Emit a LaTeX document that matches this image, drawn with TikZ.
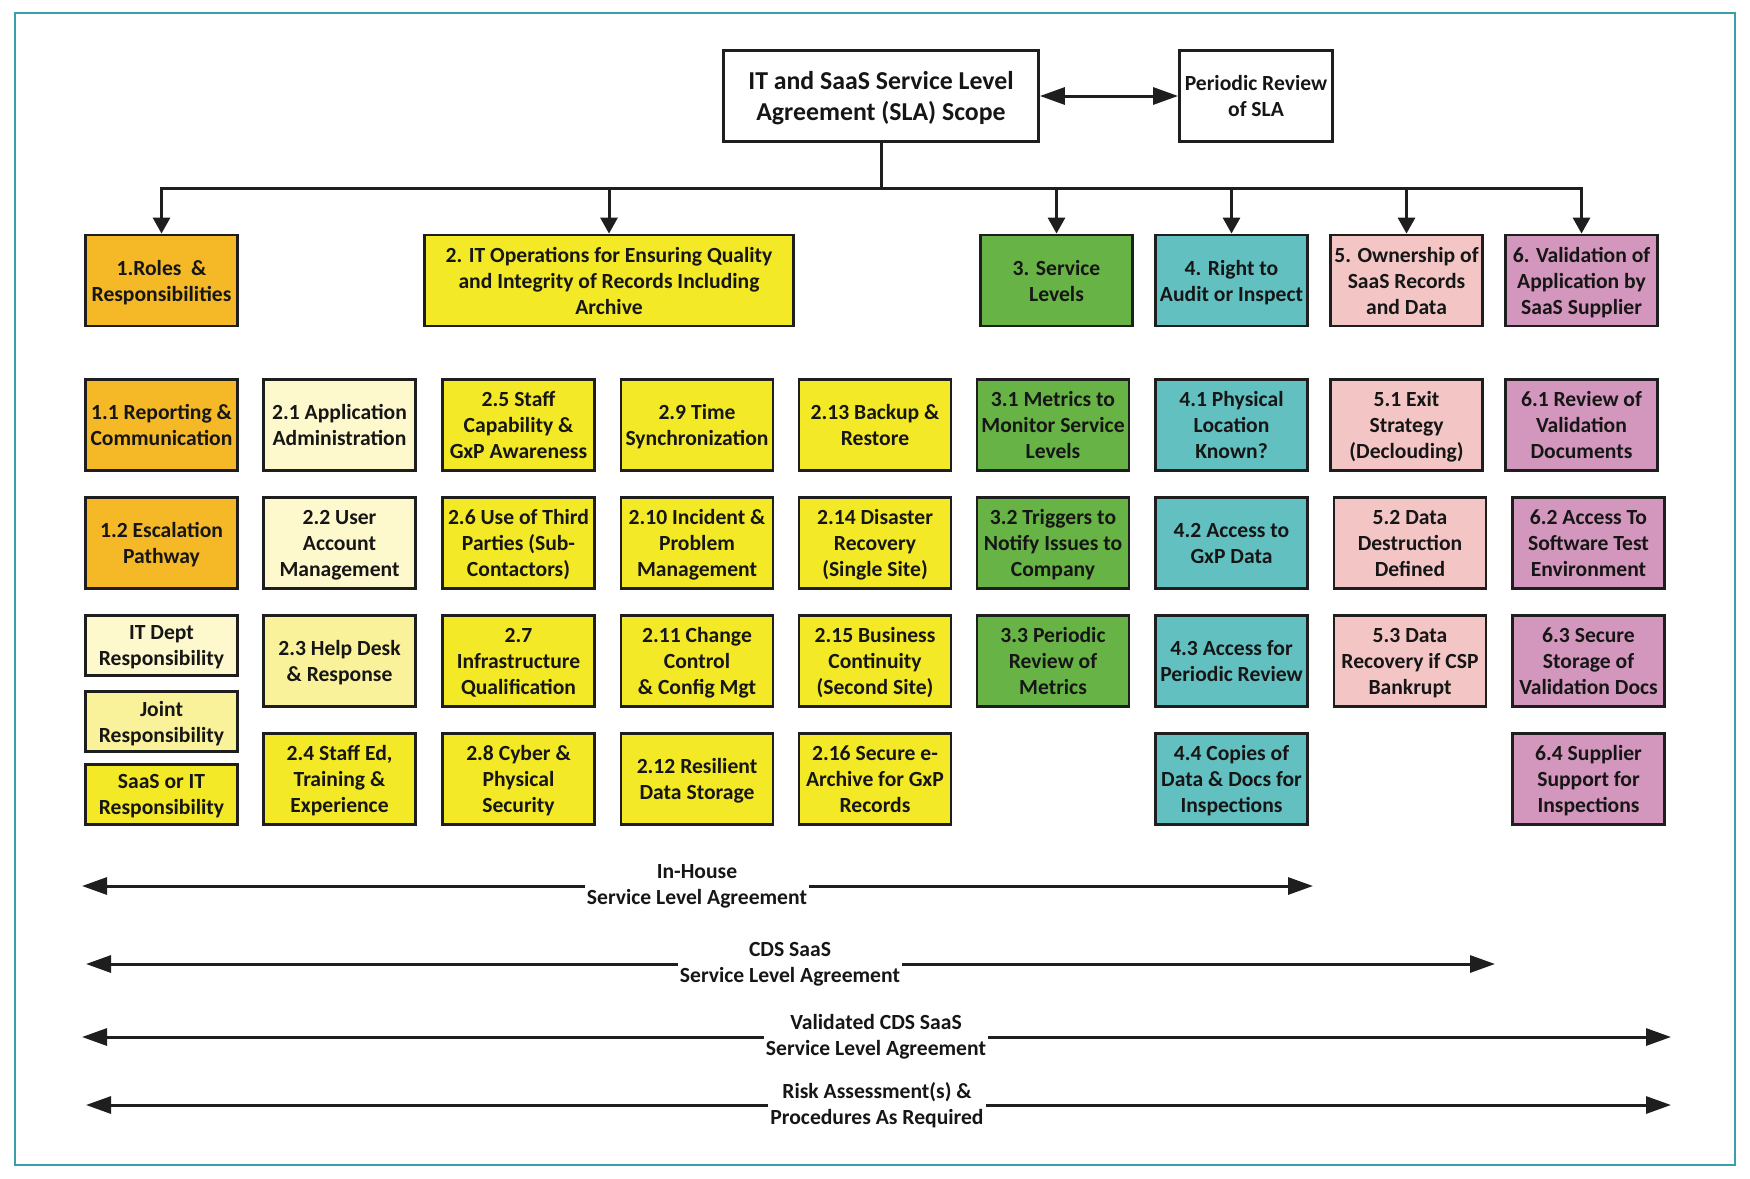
\documentclass[tikz,border=0pt]{standalone}
\usepackage{fontspec}
\setmainfont{Carlito}
\usetikzlibrary{arrows.meta}
\definecolor{frame}{HTML}{3A9FAA}
\definecolor{ln}{HTML}{1E1E1E}
\definecolor{txt}{HTML}{161616}
\definecolor{corange}{HTML}{F5B827}
\definecolor{ccream}{HTML}{FEF9CC}
\definecolor{clight}{HTML}{FAF29A}
\definecolor{cyellow}{HTML}{F3E927}
\definecolor{cgreen}{HTML}{67B346}
\definecolor{cteal}{HTML}{62C0C1}
\definecolor{cpink}{HTML}{F4C5C5}
\definecolor{cmauve}{HTML}{D396BC}
\begin{document}
\begin{tikzpicture}[x=0.5pt,y=-0.5pt,
  box/.style={draw=ln, line width=1.4pt, align=center, inner sep=0pt,
    font=\bfseries\fontsize{10.8}{13}\selectfont, text=txt,
    minimum width=76pt, minimum height=45.5pt, text depth=0pt},
  smallbox/.style={box, minimum height=30pt},
  lab/.style={align=center, inner xsep=1pt, inner ysep=0pt, text=txt,
    font=\bfseries\fontsize{10.8}{13}\selectfont},
  harr/.style={draw=ln, line width=1.5pt, -{Triangle[length=12.5pt,width=8.5pt]}},
  varr/.style={draw=ln, line width=1.5pt, -{Triangle[length=8pt,width=8.5pt]}},
  bus/.style={draw=ln, line width=1.5pt}]
\useasboundingbox (0,0) rectangle (1750,1178);
\fill[white] (0,0) rectangle (1750,1178);
\draw[frame, line width=1pt] (15,12.5) rectangle (1735,1165);

% top
\node[box, minimum width=157.5pt, font=\bfseries\fontsize{12.9}{15.5}\selectfont] (top) at (881,96) {IT and SaaS Service Level\\Agreement (SLA) Scope};
\node[box, minimum width=76.5pt] (rev) at (1256,96) {Periodic Review\\of SLA};
\draw[harr, {Triangle[length=12.5pt,width=8.5pt]}-{Triangle[length=12.5pt,width=8.5pt]}] (top.east) -- (rev.west);

% level 1
\node[box, fill=corange] (l1) at (161.5,280.5) {1.Roles\ \ \&\\Responsibilities};
\node[box, fill=cyellow, minimum width=184.5pt] (l2) at (609,280.5) {2. IT Operations for Ensuring Quality\\and Integrity of Records Including\\Archive};
\node[box, fill=cgreen] (l3) at (1056.5,280.5) {3. Service\\Levels};
\node[box, fill=cteal] (l4) at (1231.5,280.5) {4. Right to\\Audit or Inspect};
\node[box, fill=cpink] (l5) at (1406.5,280.5) {5. Ownership of\\SaaS Records\\and Data};
\node[box, fill=cmauve] (l6) at (1581.5,280.5) {6. Validation of\\Application by\\SaaS Supplier};

\coordinate (busc) at (881,188);
\draw[bus] (top.south) -- (busc);
\draw[bus, line cap=rect] (busc -| l1.north) -- (busc -| l6.north);
\foreach \n in {l1,l2,l3,l4,l5,l6}{
  \draw[varr] (busc -| \n.north) -- (\n.north);
}

% column 1
\node[box, fill=corange] (b11) at (161.5,425) {1.1 Reporting \&\\Communication};
\node[box, fill=corange] (b12) at (161.5,543) {1.2 Escalation\\Pathway};
\node[smallbox, fill=ccream] (kit) at (161.5,645.5) {IT Dept\\Responsibility};
\node[smallbox, fill=clight] (kjoint) at (161.5,721.5) {Joint\\Responsibility};
\node[smallbox, fill=cyellow] (ksaas) at (161.5,794.5) {SaaS or IT\\Responsibility};

% column 2
\node[box, fill=ccream] (b21) at (339.5,425) {2.1 Application\\Administration};
\node[box, fill=ccream] (b22) at (339.5,543) {2.2 User\\Account\\Management};
\node[box, fill=clight] (b23) at (339.5,661) {2.3 Help Desk\\\& Response};
\node[box, fill=cyellow] (b24) at (339.5,779) {2.4 Staff Ed,\\Training \&\\Experience};

% column 3
\node[box, fill=cyellow] (b25) at (518.5,425) {2.5 Staff\\Capability \&\\GxP Awareness};
\node[box, fill=cyellow] (b26) at (518.5,543) {2.6 Use of Third\\Parties (Sub-\\Contactors)};
\node[box, fill=cyellow] (b27) at (518.5,661) {2.7\\Infrastructure\\Qualification};
\node[box, fill=cyellow] (b28) at (518.5,779) {2.8 Cyber \&\\Physical\\Security};

% column 4
\node[box, fill=cyellow] (b29) at (697,425) {2.9 Time\\Synchronization};
\node[box, fill=cyellow] (b210) at (697,543) {2.10 Incident \&\\Problem\\Management};
\node[box, fill=cyellow] (b211) at (697,661) {2.11 Change\\Control\\\& Config Mgt};
\node[box, fill=cyellow] (b212) at (697,779) {2.12 Resilient\\Data Storage};

% column 5
\node[box, fill=cyellow] (b213) at (875,425) {2.13 Backup \&\\Restore};
\node[box, fill=cyellow] (b214) at (875,543) {2.14 Disaster\\Recovery\\(Single Site)};
\node[box, fill=cyellow] (b215) at (875,661) {2.15 Business\\Continuity\\(Second Site)};
\node[box, fill=cyellow] (b216) at (875,779) {2.16 Secure e-\\Archive for GxP\\Records};

% column 6
\node[box, fill=cgreen] (b31) at (1053,425) {3.1 Metrics to\\Monitor Service\\Levels};
\node[box, fill=cgreen] (b32) at (1053,543) {3.2 Triggers to\\Notify Issues to\\Company};
\node[box, fill=cgreen] (b33) at (1053,661) {3.3 Periodic\\Review of\\Metrics};

% column 7
\node[box, fill=cteal] (b41) at (1231.5,425) {4.1 Physical\\Location\\Known?};
\node[box, fill=cteal] (b42) at (1231.5,543) {4.2 Access to\\GxP Data};
\node[box, fill=cteal] (b43) at (1231.5,661) {4.3 Access for\\Periodic Review};
\node[box, fill=cteal] (b44) at (1231.5,779) {4.4 Copies of\\Data \& Docs for\\Inspections};

% column 8
\node[box, fill=cpink] (b51) at (1406.5,425) {5.1 Exit\\Strategy\\(Declouding)};
\node[box, fill=cpink] (b52) at (1410,543) {5.2 Data\\Destruction\\Defined};
\node[box, fill=cpink] (b53) at (1410,661) {5.3 Data\\Recovery if CSP\\Bankrupt};

% column 9
\node[box, fill=cmauve] (b61) at (1581.5,425) {6.1 Review of\\Validation\\Documents};
\node[box, fill=cmauve] (b62) at (1588.5,543) {6.2 Access To\\Software Test\\Environment};
\node[box, fill=cmauve] (b63) at (1588.5,661) {6.3 Secure\\Storage of\\Validation Docs};
\node[box, fill=cmauve] (b64) at (1588.5,779) {6.4 Supplier\\Support for\\Inspections};

% bottom scope arrows
\node[lab] (s1) at (697,886) {In-House\\Service Level Agreement};
\coordinate (s1l) at (82,886); \coordinate (s1r) at (1313,886);
\draw[harr] (s1.west) -- (s1l);
\draw[harr] (s1.east) -- (s1r);

\node[lab] (s2) at (790,964) {CDS SaaS\\Service Level Agreement};
\coordinate (s2l) at (86,964); \coordinate (s2r) at (1495,964);
\draw[harr] (s2.west) -- (s2l);
\draw[harr] (s2.east) -- (s2r);

\node[lab] (s3) at (876,1037) {Validated CDS SaaS\\Service Level Agreement};
\coordinate (s3l) at (82,1037); \coordinate (s3r) at (1671,1037);
\draw[harr] (s3.west) -- (s3l);
\draw[harr] (s3.east) -- (s3r);

\node[lab] (s4) at (877,1105) {Risk Assessment(s) \&\\Procedures As Required};
\coordinate (s4l) at (86,1105); \coordinate (s4r) at (1671,1105);
\draw[harr] (s4.west) -- (s4l);
\draw[harr] (s4.east) -- (s4r);
\end{tikzpicture}
\end{document}
